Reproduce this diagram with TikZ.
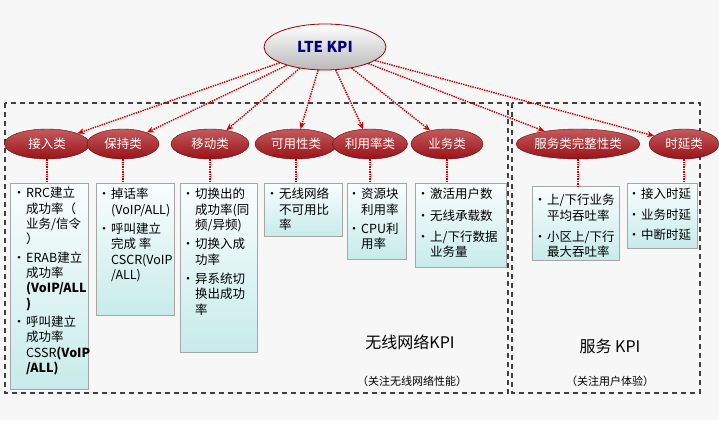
\documentclass[tikz,border=0pt]{standalone}
\usepackage{fontspec}
\setmainfont{Noto Sans CJK SC}
\usetikzlibrary{arrows.meta,shapes.geometric}
\definecolor{cat}{RGB}{170,20,25}
\definecolor{boxc}{RGB}{200,235,235}
\newenvironment{kl}{\begin{tabular}{@{}p{10pt}@{}l@{}}}{\end{tabular}}
\newcommand{\bl}{\hspace*{3pt}\makebox[0pt]{•}}
\tikzset{
 catn/.style={ellipse, draw=cat!60!black, inner sep=0pt, top color=cat!70, bottom color=cat!90!black, text=white, font=\fontsize{12.5}{13}\selectfont, minimum height=30pt},
 kbox/.style={draw=gray!70, top color=white!90!boxc, bottom color=boxc},
 ktext/.style={anchor=north west, inner sep=0pt, font=\fontsize{12.5}{15.8}\selectfont\renewcommand{\arraystretch}{0.97}},
 arr/.style={draw=red!80!black, densely dotted, line width=1.4pt, -{Stealth[length=7pt,width=6pt]}},
 vl/.style={draw=red!80!black, densely dotted, line width=1.4pt},
 frame/.style={draw=black!75, line width=1.3pt, dash pattern=on 5pt off 4pt},
}
\begin{document}
\begin{tikzpicture}[x=1pt,y=-1pt]
\useasboundingbox[fill=white!94!gray] (0,0) rectangle (719,420);
\draw[frame] (5,103) rectangle (508,393);
\draw[frame] (512,103) rectangle (700,393);
\node[ellipse, draw=red!60!black, line width=0.8pt, top color=white, bottom color=gray!55, minimum width=122pt, minimum height=46pt, font=\bfseries\fontsize{15}{16}\selectfont, text=blue!50!black] (top) at (325,47) {LTE KPI};
\node[catn, minimum width=85pt] (c1) at (47,144) {接入类};
\node[catn, minimum width=72pt] (c2) at (123,144) {保持类};
\node[catn, minimum width=78pt] (c3) at (210,144) {移动类};
\node[catn, minimum width=82pt] (c4) at (296,144) {可用性类};
\node[catn, minimum width=75pt] (c5) at (370,144) {利用率类};
\node[catn, minimum width=72pt] (c6) at (447,144) {业务类};
\node[catn, minimum width=112pt] (c7) at (578,144) {服务类完整性类};
\node[catn, minimum width=70pt] (c8) at (684,144) {时延类};
\foreach \i in {1,...,8} \draw[arr] (top) -- (c\i);
% boxes
\path[kbox] (10,183) rectangle (88,389);
\path[kbox] (96,183) rectangle (174,315);
\path[kbox] (180,183) rectangle (257,352);
\path[kbox] (264,183) rectangle (342,236);
\path[kbox] (347,183) rectangle (406,259);
\path[kbox] (415,183) rectangle (506,267);
\path[kbox] (532,186) rectangle (619,260);
\path[kbox] (627,183) rectangle (697,248);
\foreach \i/\x/\y in {1/52/183,2/133/183,3/222/183,4/306/183,5/377/183,6/450/183,7/578/186,8/663/183}
  {\coordinate (b\i) at (\x,\y); \draw[vl] (c\i.south) -- (c\i.south |- b\i);}
\node[ktext] (t1) at (16,187) {\begin{kl}\bl&RRC建立\\&成功率（\\&业务/信令\\&）\\[3pt]\bl&ERAB建立\\&成功率\\&\textbf{(VoIP/ALL}\\&\textbf{)}\\[3pt]\bl&呼叫建立\\&成功率\\&CSSR\textbf{(VoIP}\\&\textbf{/ALL)}\end{kl}};
\node[ktext] (t2) at (101,188) {\begin{kl}\bl&掉话率\\&(VoIP/ALL)\\[4pt]\bl&呼叫建立\\&完成 率\\&CSCR(VoIP\\&/ALL)\end{kl}};
\node[ktext] (t3) at (185,188) {\begin{kl}\bl&切换出的\\&成功率(同\\&频/异频)\\[4pt]\bl&切换入成\\&功率\\[4pt]\bl&异系统切\\&换出成功\\&率\end{kl}};
\node[ktext] (t4) at (269,188) {\begin{kl}\bl&无线网络\\&不可用比\\&率\end{kl}};
\node[ktext] (t5) at (351,188) {\begin{kl}\bl&资源块\\&利用率\\[4pt]\bl&CPU利\\&用率\end{kl}};
\node[ktext] (t6) at (420,188) {\begin{kl}\bl&激活用户数\\[6pt]\bl&无线承载数\\[6pt]\bl&上/下行数据\\&业务量\end{kl}};
\node[ktext] (t7) at (537,194) {\begin{kl}\bl&上/下行业务\\&平均吞吐率\\[6pt]\bl&小区上/下行\\&最大吞吐率\end{kl}};
\node[ktext] (t8) at (631,188) {\begin{kl}\bl&接入时延\\[5pt]\bl&业务时延\\[5pt]\bl&中断时延\end{kl}};
\node[font=\fontsize{16}{17}\selectfont] (l1) at (410,342) {无线网络KPI};
\node[font=\fontsize{11}{12}\selectfont] (l2) at (412,381) {（关注无线网络性能）};
\node[font=\fontsize{16}{17}\selectfont] (l3) at (610,346) {服务 KPI};
\node[font=\fontsize{11}{12}\selectfont] (l4) at (610,381) {（关注用户体验）};
\end{tikzpicture}
\end{document}
